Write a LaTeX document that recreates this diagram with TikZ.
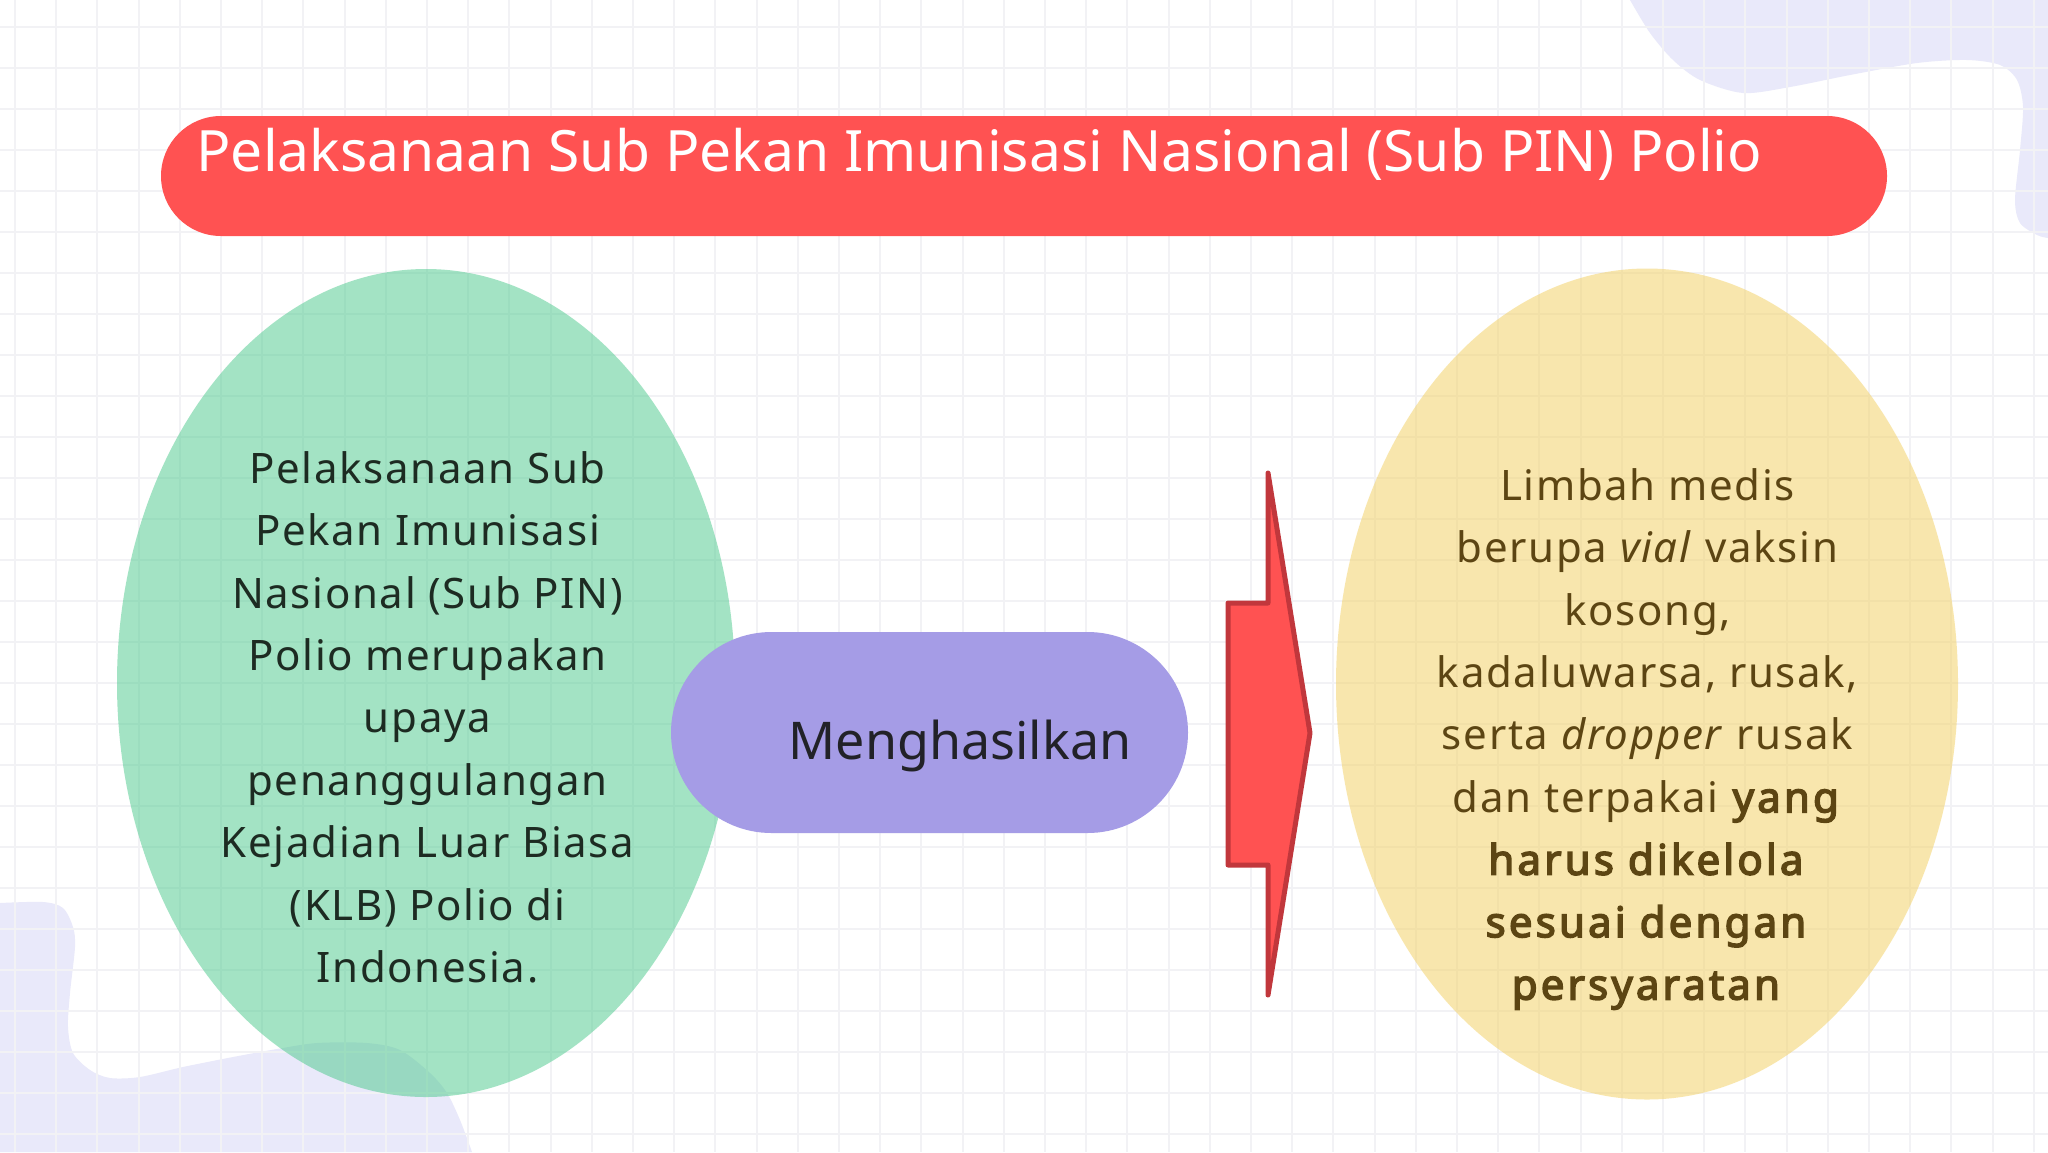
\documentclass[tikz,border=0pt]{standalone}
\usepackage{fontspec}
\setmainfont{Noto Sans}
\newfontfamily\bodyfont[LetterSpace=4, BoldFont={Noto Sans}, BoldFeatures={FakeBold=3.5, LetterSpace=7.5}]{Noto Sans}
\usetikzlibrary{shapes.geometric}
\definecolor{lav}{HTML}{E9E9FA}
\definecolor{gridc}{HTML}{F2F2F5}
\definecolor{titlered}{HTML}{FF5252}
\definecolor{greenbase}{HTML}{48C98A}
\definecolor{yellowbase}{HTML}{F3CF5D}
\definecolor{purplefill}{HTML}{A59CE6}
\definecolor{arrowline}{HTML}{C1373C}
\definecolor{leftink}{HTML}{1D2B22}
\definecolor{rightink}{HTML}{5C4513}
\definecolor{midink}{HTML}{222228}
\tikzset{
  gridline/.style={draw=gridc, line width=1pt},
  bubble/.style={ellipse, fill opacity=0.5, inner sep=0pt, draw=none},
  bodytext/.style={align=center, inner sep=0pt, anchor=north,
    font=\bodyfont\fontsize{21}{31.2}\selectfont},
  bigarrow/.style={fill=titlered, draw=arrowline, line width=2.5pt, line join=round},
}
\begin{document}
\begin{tikzpicture}[x=0.5pt,y=-0.5pt]
\useasboundingbox (0,0) rectangle (2048,1152);
\fill[white] (0,0) rectangle (2048,1152);
% background blobs
\fill[lav] plot[smooth,tension=0.5] coordinates {(1630,0) (1650,33) (1673,60) (1700,80) (1743,93) (1790,87) (1850,75) (1917,63) (1967,60) (2000,65) (2017,80) (2023,107) (2020,150) (2015,200) (2020,223) (2037,235) (2048,238)} -- (2048,0) -- cycle;
\fill[lav] (0,1152) -- plot[smooth,tension=0.5] coordinates {(0,903) (43,902) (63,908) (73,927) (75,947) (70,993) (68,1027) (73,1053) (90,1070) (110,1078) (140,1077) (183,1067) (233,1057) (277,1049) (317,1043) (367,1043) (400,1050) (430,1073) (447,1093) (460,1120) (472,1152)} -- cycle;
% grid
\foreach \i in {0,...,49} \draw[gridline] ({15+41.2*\i},0) -- ({15+41.2*\i},1152);
\foreach \j in {0,...,27} \draw[gridline] (0,{27+41*\j}) -- (2048,{27+41*\j});
% shapes
\node[bubble, fill=greenbase, minimum width=309pt, minimum height=414pt] (left) at (426,683) {};
\node[bubble, fill=yellowbase, minimum width=311pt, minimum height=415.5pt] (right) at (1647,684) {};
\node[fill=purplefill, rounded corners=50.25pt, minimum width=258.5pt, minimum height=100.5pt, inner sep=0pt] (mid) at (929.5,732.5) {};
\node[fill=titlered, rounded corners=30pt, minimum width=863pt, minimum height=60pt, inner sep=0pt] (title) at (1024,176) {};
\draw[bigarrow] (1268,473) -- (1268,603) -- (1228,603) -- (1228,865) -- (1268,865) -- (1268,995) -- (1310,733) -- cycle;
% texts
\node[anchor=base west, inner sep=0pt, text=white, font=\fontsize{28.5}{34}\selectfont] (titletext) at (196,171) {Pelaksanaan Sub Pekan Imunisasi Nasional (Sub PIN) Polio};
\node[anchor=base, inner sep=0pt, text=midink, font=\fontsize{26}{31}\selectfont] (midtext) at (960,759) {Menghasilkan};
\node[bodytext, text=leftink] (lefttext) at (427.5,451) {Pelaksanaan Sub\\Pekan Imunisasi\\Nasional (Sub PIN)\\Polio merupakan\\upaya\\penanggulangan\\Kejadian Luar Biasa\\(KLB) Polio di\\Indonesia.};
\node[bodytext, text=rightink] (righttext) at (1647.5,468) {Limbah medis\\berupa \textit{vial} vaksin\\kosong,\\kadaluwarsa, rusak,\\serta \textit{dropper} rusak\\dan terpakai \textbf{yang}\\\textbf{harus dikelola}\\\textbf{sesuai dengan}\\\textbf{persyaratan}};
\end{tikzpicture}
\end{document}
